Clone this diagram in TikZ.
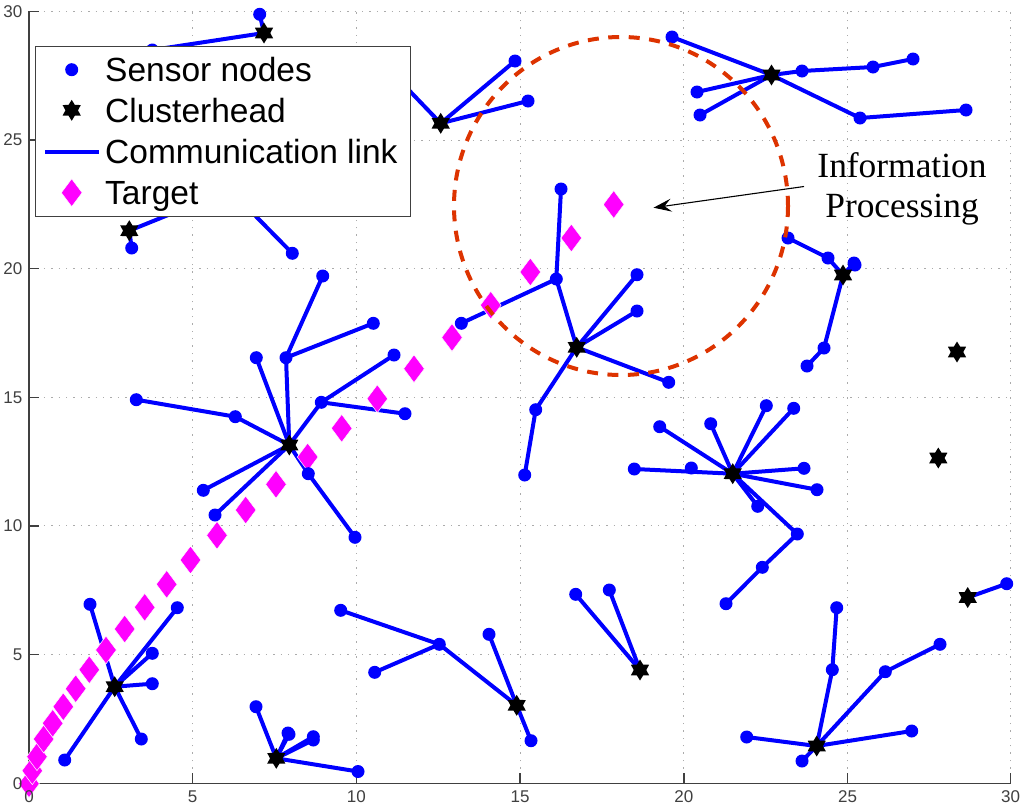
\documentclass[tikz,border=0pt]{standalone}
\usepackage{fontspec}
\setmainfont{Liberation Sans}
\newfontfamily\annfont{Liberation Serif}
\usetikzlibrary{shapes.geometric,arrows.meta}
\pgfdeclarelayer{background}
\pgfsetlayers{background,main}
\definecolor{axisgray}{HTML}{404040}
\definecolor{gridgray}{HTML}{ABABAB}
\definecolor{circred}{HTML}{DD3300}
\definecolor{sensorblue}{HTML}{0000FF}
\definecolor{targetpink}{HTML}{FF00FF}
\tikzset{
  sensor/.style={circle,fill=sensorblue,inner sep=0pt,minimum size=13pt},
  head/.style={star,star points=6,star point ratio=1.68,fill=black,inner sep=0pt,minimum size=21pt},
  target/.style={diamond,fill=targetpink,draw=white,line width=0.5pt,inner sep=0pt,minimum width=21pt,minimum height=28pt},
  link/.style={draw=sensorblue,line width=4pt},
  gridline/.style={draw=gridgray,line width=1pt,dash pattern=on 1.4pt off 6pt},
  axisline/.style={draw=axisgray,line width=1.4pt},
  ticklabel/.style={font=\fontsize{17}{20}\selectfont,text=axisgray,inner sep=0pt},
  legendtext/.style={font=\fontsize{33.5}{40}\selectfont,anchor=base west,inner sep=0pt},
  anntext/.style={font=\annfont\fontsize{35.4}{40}\selectfont,align=center,inner sep=0pt}
}
\begin{document}
\begin{tikzpicture}[x=1pt,y=-1pt]
\useasboundingbox (0,0) rectangle (1024,809);
% targets
\foreach \n/\x/\y in {t1/29/783.7,t2/32.3/770.7,t3/37/756.7,t4/43.7/739,t5/52.7/723.3,t6/63.3/706.7,t7/75.7/688.7,t8/89.3/669.7,t9/106/650,t10/124.7/629,t11/144.7/607.3,t12/166.7/584.3,t13/190.5/560,t14/217/535.3,t15/245.7/510,t16/276/484.3,t17/307.7/457,t18/341.7/428.3,t19/377.3/398.7,t20/414/368.7,t21/452/337.5,t22/490.7/305.2,t23/530.3/272,t24/571.3/238,t25/613.7/204.5}
  \node[target] (\n) at (\x,\y) {};
% sensor nodes
\foreach \n/\x/\y in {
 a1/259.7/14.3,a2/152.3/50,
 b1/515/61,b2/528/101,b3/380/60,
 c1/131.7/248,c2/292.3/253.3,c3/230/190,
 d1/672/37,d2/697/92,d3/700/115,d4/802/71,d5/873/67,d6/913/59,d7/860/118,d8/966/110,
 e1/556.3/279,e2/561/189,e3/461.3/323.3,e4/637/274.7,e5/637/311,e6/668.7/382.3,e7/535.7/409.7,e8/524.7/475,
 f1/322.7/276,f2/373.3/323.3,f3/286/357.7,f4/256.3/357.7,f5/394/355,f6/321.3/402.3,f7/405/413.7,f8/235.3/416.7,f9/136.3/399.7,f10/203.3/490.3,f11/215/515,f12/308.3/473.7,f13/355/537.3,
 g1/659.7/426.7,g2/710.7/423.7,g4/766.3/405.7,g5/793.7/408.3,g6/634.3/469,g7/691.3/468,g8/804/468.3,g9/817/489.7,g10/757.7/506.3,g11/797.3/534,g12/762.3/567.3,g13/726/603.7,
 h1/788/238,h2/828/258,h3/855/265,h4/854/263,h5/824/348,h6/807/366,
 i1/1006.7/583.7,
 j1/575.7/594.3,j2/609.3/590,
 k1/489/634.3,k2/531/740.7,k3/439.3/644.3,k4/340.7/610.3,k5/374.7/672.3,
 l1/746.7/737,l2/802/761,l3/911.7/731,l4/885.3/671.7,l5/940/644.3,l6/832.3/669.7,l7/836.7/607.7,
 m1/90/604.3,m2/177.3/607.7,m3/152.3/653.3,m4/152.3/683.7,m5/141.3/739,m6/64.7/760,
 n1/256/706.7,n2/289/734.3,n3/288/733,n4/313.3/736.7,n5/313.3/740,n6/358/771.5}
  \node[sensor] (\n) at (\x,\y) {};
% clusterheads
\foreach \n/\x/\y in {ha/264/33,hb/440.7/123.3,hc/129.3/230.7,hd/771.5/75,he/576.7/347.3,hf/289.3/445,hg/732.7/473.7,hh/843/275,hi1/957/352,hi2/938.3/458,hi3/967.7/597.5,hj/640/670,hk/516.7/705.3,hl/816.7/746,hm/114.7/686.7,hn/276.3/758.3}
  \node[head] (\n) at (\x,\y) {};
% background, grid, axes and links behind everything
\begin{pgfonlayer}{background}
\fill[white] (0,0) rectangle (1024,809);
\foreach \v in {192.7,356.4,520.1,683.8,847.5,1010.5} \draw[gridline] (\v,783.3) -- (\v,11.3);
\foreach \v in {11.3,140,268.6,397.3,525.9,654.6} \draw[gridline] (29,\v) -- (1010.5,\v);
\foreach \a/\b in {ha/a1,ha/a2,hb/b1,hb/b2,hb/b3,hc/c1,hc/c3,c3/c2,
 hd/d1,hd/d2,hd/d3,hd/d4,d4/d5,d5/d6,hd/d7,d7/d8,
 he/e1,e1/e2,e1/e3,he/e4,he/e5,he/e6,he/e7,e7/e8,
 hf/f3,f3/f1,f3/f2,hf/f4,hf/f6,f6/f5,f6/f7,hf/f8,f8/f9,hf/f10,hf/f11,hf/f12,f12/f13,
 hg/g1,hg/g2,hg/g4,hg/g5,hg/g6,hg/g8,hg/g9,hg/g10,hg/g11,g11/g12,g12/g13,
 hh/h2,h2/h1,hh/h3,hh/h4,hh/h5,h5/h6,
 hi3/i1,
 hj/j1,hj/j2,
 hk/k1,hk/k2,hk/k3,k3/k4,k3/k5,
 hl/l1,hl/l2,hl/l3,hl/l4,l4/l5,hl/l6,l6/l7,
 hm/m1,hm/m2,hm/m3,hm/m4,hm/m5,hm/m6,
 hn/n1,hn/n2,hn/n3,hn/n4,hn/n5,hn/n6}
  \draw[link] (\a.center) -- (\b.center);
\draw[axisline] (29,11.3) -- (29,783.3) -- (1010.5,783.3);
\foreach \v in {11.3,140,268.6,397.3,525.9,654.6} \draw[axisline] (29,\v) -- (39,\v);
\foreach \v in {192.7,356.4,520.1,683.8,847.5,1010.5} \draw[axisline] (\v,783.3) -- (\v,773.3);
\end{pgfonlayer}
% tick labels
\foreach \n/\v/\t in {y0/783.3/0,y1/654.6/5,y2/525.9/10,y3/397.3/15,y4/268.6/20,y5/140/25,y6/11.3/30}
  \node[ticklabel,anchor=east] (\n) at (22.5,\v) {\t};
\foreach \n/\v/\t in {x0/29/0,x1/192.7/5,x2/356.4/10,x3/520.1/15,x4/683.8/20,x5/847.5/25,x6/1010.5/30}
  \node[ticklabel,anchor=north] (\n) at (\v,790.5) {\t};
% processing circle and annotation
\draw[draw=circred,line width=4pt,dash pattern=on 11pt off 9.5pt] (621,206) ellipse [x radius=167,y radius=169];
\node[anntext] (ann) at (902,188.5) {Information\\Processing};
\coordinate (arrowstart) at (804,186.5);
\coordinate (arrowend) at (653.5,207.7);
\draw[-{Stealth[length=18pt,width=13pt,inset=7pt]},line width=1.1pt] (arrowstart) -- (arrowend);
% legend
\node[draw=axisgray,fill=white,line width=1pt,minimum width=375.5pt,minimum height=169.5pt,inner sep=0pt,anchor=north west] (legend) at (34.7,46.3) {};
\node[sensor] (lgs) at (71.7,69.7) {};
\node[head] (lgh) at (71.7,110.3) {};
\coordinate (lgl1) at (45,151.7);
\coordinate (lgl2) at (98.7,151.7);
\draw[link] (lgl1) -- (lgl2);
\node[target] (lgt) at (71.7,192.7) {};
\node[legendtext] (lt1) at (105,81.7) {Sensor nodes};
\node[legendtext] (lt2) at (105,122.7) {Clusterhead};
\node[legendtext] (lt3) at (105,163.3) {Communication link};
\node[legendtext] (lt4) at (105,204) {Target};
\end{tikzpicture}
\end{document}
